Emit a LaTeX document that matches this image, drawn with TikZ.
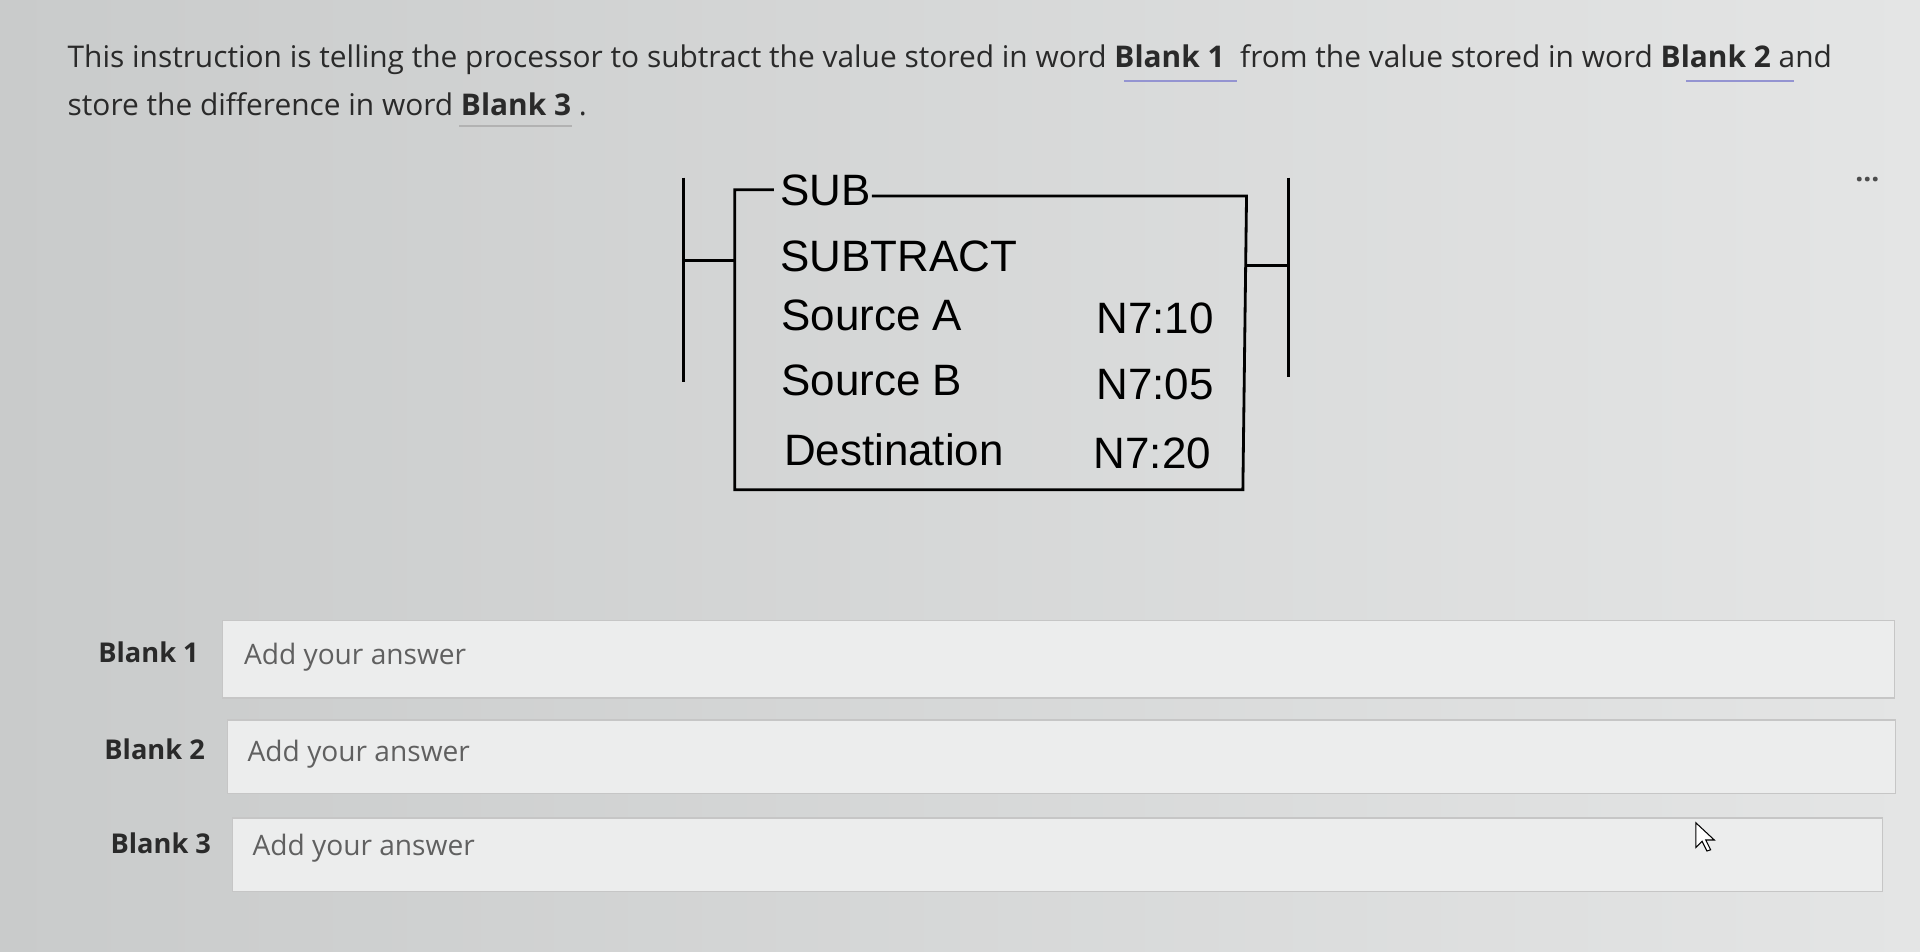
\documentclass[tikz,border=0pt]{standalone}
\usepackage{fontspec}
\setmainfont{Open Sans}
\newfontfamily\arialf{Liberation Sans}
\definecolor{bgL}{HTML}{C9CBCB}
\definecolor{bgR}{HTML}{E4E5E5}
\definecolor{txt}{HTML}{2A2A2A}
\begin{document}
\begin{tikzpicture}[x=0.02449cm,y=-0.02449cm,
  q/.style={anchor=base west,inner sep=0,text=txt,font=\fontsize{17}{19}\selectfont},
  dg/.style={anchor=base west,inner sep=0,font=\arialf\fontsize{25}{28}\selectfont},
  wire/.style={line width=1.6pt,black},
  ans/.style={draw=gray!45,fill=white!30!bgR,line width=0.6pt},
  blk/.style={anchor=base west,inner sep=0,font=\bfseries\fontsize{15.5}{17}\selectfont,text=txt},
  ph/.style={anchor=base west,inner sep=0,font=\fontsize{16}{18}\selectfont,text=gray!75!black}]
\shade[left color=bgL,right color=bgR] (0,0) rectangle (1568,777);
\useasboundingbox (0,0) rectangle (1568,777);
% question
\node[q] (l1) at (55,55) {This instruction is telling the processor to subtract the value stored in word \textbf{Blank 1}\ \ from the value stored in word \textbf{Blank 2} and};
\node[q] (l2) at (55,94) {store the difference in word \textbf{Blank 3} .};
\draw[gray!60!blue!60,line width=0.8pt] (918,66) -- (1010,66);
\draw[gray!60!blue!60,line width=0.8pt] (1377,66) -- (1465,66);
\draw[gray!60,line width=0.8pt] (375,103) -- (467,103);
\node[inner sep=0,font=\bfseries\fontsize{16}{18}\selectfont,text=gray!60!black] (dots) at (1525,147) {...};
% ladder
\draw[wire] (558,145) -- (558,312);
\draw[wire] (558,213) -- (600,213);
\draw[wire] (1052,145) -- (1052,308);
\draw[wire] (1018,217) -- (1052,217);
\draw[wire] (632,155) -- (600,155) -- (600,400) -- (1015,400) -- (1018,160) -- (712,160);
\node[dg] (sub) at (637,168) {SUB};
\node[dg] (st) at (637,222) {SUBTRACT};
\node[dg] (sa) at (638,270) {Source A};
\node[dg] (va) at (895,272) {N7:10};
\node[dg] (sb) at (638,323) {Source B};
\node[dg] (vb) at (895,326) {N7:05};
\node[dg] (de) at (640,380) {Destination};
\node[dg] (vd) at (893,383) {N7:20};
% answers
\draw[ans] (182,507) rectangle (1547,570);
\draw[ans] (186,588) rectangle (1548,648);
\draw[ans] (190,668) rectangle (1537,728);
\node[blk] (b1) at (80,541) {Blank 1};
\node[ph] (p1) at (199,543) {Add your answer};
\node[blk] (b2) at (85,620) {Blank 2};
\node[ph] (p2) at (202,622) {Add your answer};
\node[blk] (b3) at (90,697) {Blank 3};
\node[ph] (p3) at (206,699) {Add your answer};
% cursor
\draw[black,fill=white,line width=0.6pt] (1385,672) -- (1385,692) -- (1390,687) -- (1394,695) -- (1397,694) -- (1393,686) -- (1400,686) -- cycle;
\end{tikzpicture}
\end{document}
